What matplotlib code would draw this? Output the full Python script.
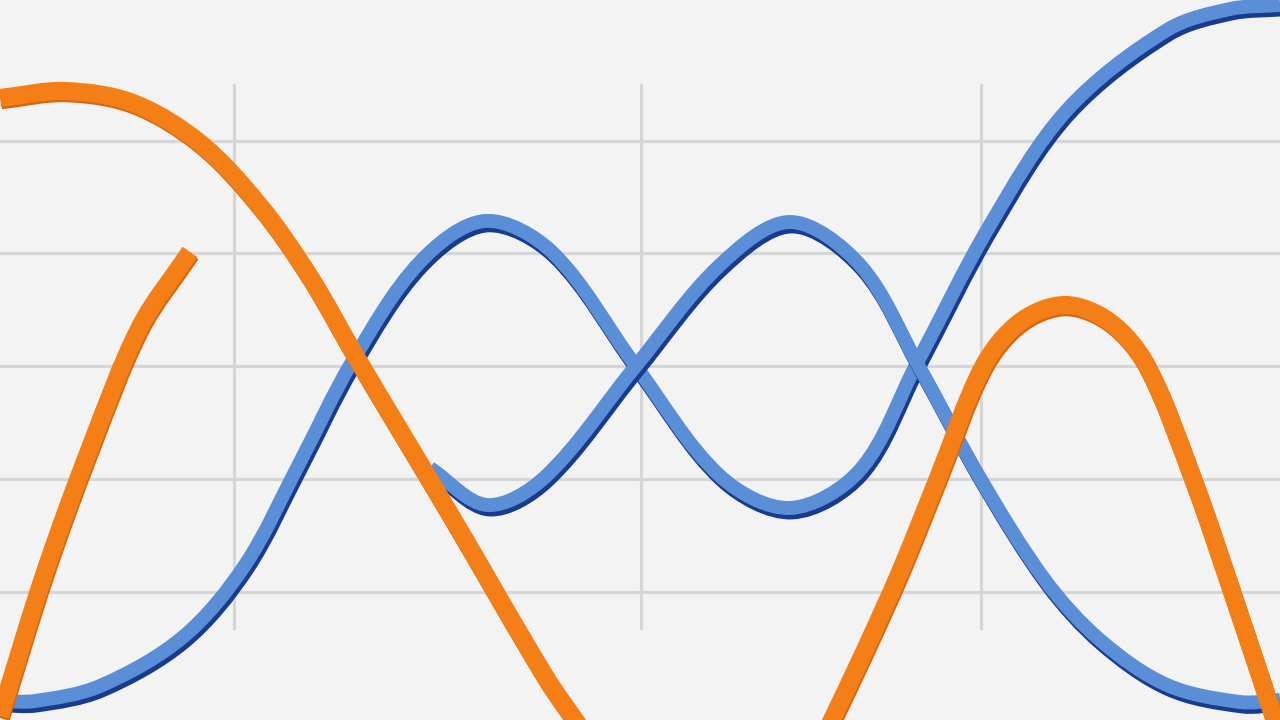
import numpy as np
import matplotlib
matplotlib.use("Agg")
import matplotlib.pyplot as plt
import matplotlib.patheffects as pe
from matplotlib.path import Path
from matplotlib.patches import PathPatch

# curves (x, y in picture pixels, y grows downwards)
blue_a_x = [0, 35, 100, 183, 245, 300, 352, 420, 485, 552, 635, 720, 790, 860, 917, 990, 1067,
            1167, 1230, 1280]
blue_a_y = [701, 701, 686, 637, 565, 462, 362, 262, 221, 252, 365, 476, 508, 470, 363, 225, 110,
            30, 9, 5]

blue_b_x = [430, 487, 545, 635, 720, 790, 860, 917, 980, 1045, 1100, 1167, 1240, 1280]
blue_b_y = [468, 505, 477, 367, 265, 222, 265, 363, 478, 580, 640, 685, 702, 700]

orange_a_x = [0, 65, 133, 200, 260, 310, 355, 450, 545, 582]
orange_a_y = [98, 91, 103, 143, 206, 277, 355, 514, 676, 730]

orange_b_x = [0, 45, 90, 140, 190]
orange_b_y = [716, 572, 448, 327, 252]

orange_c_x = [830, 865, 900, 938, 983, 1020, 1065, 1110, 1147, 1193, 1232, 1276]
orange_c_y = [724, 650, 572, 478, 367, 322, 305, 322, 366, 479, 592, 724]

grid_y = [141, 253, 366, 479, 592]
grid_x = [234, 641, 981]

BLUE = '#5a8fd7'
BLUE_DARK = '#183a8f'
ORANGE = '#f57f17'
ORANGE_DARK = '#d8650c'


def smooth_path(xs, ys):
    # chord-length catmull-rom through the points, as cubic bezier segments
    p = np.column_stack([xs, ys]).astype(float)
    n = len(p)
    t = np.concatenate([[0], np.cumsum(np.hypot(*np.diff(p, axis=0).T))])
    m = np.zeros_like(p)
    m[0] = (p[1] - p[0]) / (t[1] - t[0])
    m[-1] = (p[-1] - p[-2]) / (t[-1] - t[-2])
    for i in range(1, n - 1):
        m[i] = (p[i + 1] - p[i - 1]) / (t[i + 1] - t[i - 1])
    verts = [p[0]]
    codes = [Path.MOVETO]
    for i in range(n - 1):
        h = t[i + 1] - t[i]
        verts += [p[i] + m[i] * h / 3, p[i + 1] - m[i + 1] * h / 3, p[i + 1]]
        codes += [Path.CURVE4] * 3
    return Path(verts, codes)


fig = plt.figure(figsize=(12.8, 7.2), dpi=100)
fig.patch.set_facecolor('#f3f3f3')
ax = fig.add_axes([0, 0, 1, 1])
ax.set_facecolor('#f3f3f3')
ax.set_xlim(0, 1280)
ax.set_ylim(720, 0)
ax.axis('off')

for y in grid_y:
    ax.axhline(y, color='#d6d6d6', lw=2.3, zorder=1)
for x in grid_x:
    ax.plot([x, x], [85, 628], color='#d6d6d6', lw=2.3, zorder=1)

blue_fx = [pe.Stroke(linewidth=10, foreground=BLUE_DARK, offset=(1.4, -3.2)), pe.Normal()]
orange_fx = [pe.Stroke(linewidth=13, foreground=ORANGE_DARK, offset=(0.7, -1.6)), pe.Normal()]

for xs, ys in [(blue_a_x, blue_a_y), (blue_b_x, blue_b_y)]:
    ax.add_patch(PathPatch(smooth_path(xs, ys), fill=False, edgecolor=BLUE, lw=10,
                           capstyle='butt', joinstyle='round', path_effects=blue_fx, zorder=3))

for xs, ys in [(orange_a_x, orange_a_y), (orange_b_x, orange_b_y), (orange_c_x, orange_c_y)]:
    ax.add_patch(PathPatch(smooth_path(xs, ys), fill=False, edgecolor=ORANGE, lw=13,
                           capstyle='butt', joinstyle='round', path_effects=orange_fx, zorder=4))

fig.savefig('out.png', dpi=100, facecolor=fig.get_facecolor())
